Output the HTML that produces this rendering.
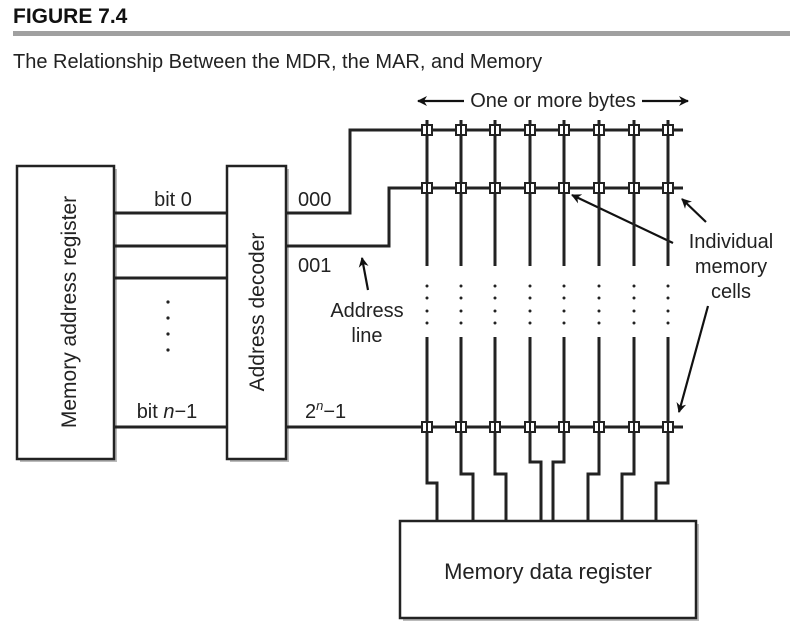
<!DOCTYPE html>
<html><head><meta charset="utf-8"><style>
html,body{margin:0;padding:0;background:#fff;}
svg{display:block;font-family:"Liberation Sans",sans-serif;}
</style></head><body>
<svg width="803" height="633" viewBox="0 0 803 633" xmlns="http://www.w3.org/2000/svg">
<defs>
<g id="c"><rect x="-5" y="-5" width="10" height="10" fill="#fff" stroke="#222" stroke-width="2"/><line x1="0" y1="-5" x2="0" y2="5" stroke="#222" stroke-width="2"/></g>
<g id="dots" fill="#222"><circle cx="0" cy="286" r="1.5"/><circle cx="0" cy="298" r="1.5"/><circle cx="0" cy="311" r="1.5"/><circle cx="0" cy="323" r="1.5"/></g>
<marker id="ah" markerWidth="10" markerHeight="10" refX="9" refY="5" orient="auto" markerUnits="userSpaceOnUse"><path d="M0,0 L10,5 L0,10 L3,5 Z" fill="#111"/></marker>
</defs>
<text x="13" y="23" font-size="21" font-weight="bold" fill="#111">FIGURE 7.4</text>
<rect x="13" y="31" width="777" height="5" fill="#a0a0a0"/>
<text x="13" y="68" font-size="20" fill="#222">The Relationship Between the MDR, the MAR, and Memory</text>

<rect x="20" y="169" width="97" height="293" fill="#bbb"/>
<rect x="230" y="169" width="59" height="293" fill="#bbb"/>
<rect x="403" y="524" width="296" height="97" fill="#bbb"/>
<rect x="17" y="166" width="97" height="293" fill="#fff" stroke="#222" stroke-width="2.5"/>
<rect x="227" y="166" width="59" height="293" fill="#fff" stroke="#222" stroke-width="2.5"/>
<rect x="400" y="521" width="296" height="97" fill="#fff" stroke="#222" stroke-width="2.5"/>
<text transform="translate(76,312) rotate(-90)" font-size="21" text-anchor="middle" fill="#222">Memory address register</text>
<text transform="translate(264,312) rotate(-90)" font-size="21" text-anchor="middle" fill="#222">Address decoder</text>
<text x="548" y="579" font-size="22" text-anchor="middle" fill="#222">Memory data register</text>

<g stroke="#222" stroke-width="3" fill="none">
<line x1="114" y1="213" x2="227" y2="213"/>
<line x1="114" y1="246" x2="227" y2="246"/>
<line x1="114" y1="278" x2="227" y2="278"/>
<line x1="114" y1="427" x2="227" y2="427"/>
<polyline points="286,213 350,213 350,130 683,130"/>
<polyline points="286,246 389,246 389,188 683,188"/>
<line x1="286" y1="427" x2="683" y2="427"/>
</g>
<g fill="#222">
<circle cx="168" cy="302" r="1.6"/><circle cx="168" cy="318" r="1.6"/><circle cx="168" cy="334" r="1.6"/><circle cx="168" cy="350" r="1.6"/>
</g>
<text x="173" y="206" font-size="20" text-anchor="middle" fill="#222">bit 0</text>
<text x="167" y="418" font-size="20" text-anchor="middle" fill="#222">bit <tspan font-style="italic">n</tspan>−1</text>
<text x="298" y="206" font-size="20" fill="#222">000</text>
<text x="298" y="272" font-size="20" fill="#222">001</text>
<text x="305" y="418" font-size="20" fill="#222">2<tspan font-size="13" dy="-8" font-style="italic">n</tspan><tspan dy="8">−1</tspan></text>
<text x="367" y="317" font-size="20" text-anchor="middle" fill="#222">Address</text>
<text x="367" y="342" font-size="20" text-anchor="middle" fill="#222">line</text>
<text x="553" y="107" font-size="20" text-anchor="middle" fill="#222">One or more bytes</text>
<text x="731" y="248" font-size="20" text-anchor="middle" fill="#222">Individual</text>
<text x="731" y="273" font-size="20" text-anchor="middle" fill="#222">memory</text>
<text x="731" y="298" font-size="20" text-anchor="middle" fill="#222">cells</text>

<g stroke="#111" stroke-width="2.2" fill="none" marker-end="url(#ah)">
<line x1="464" y1="101" x2="418" y2="101"/>
<line x1="642" y1="101" x2="688" y2="101"/>
<line x1="368" y1="290" x2="362" y2="258"/>
<line x1="673" y1="243" x2="572" y2="195"/>
<line x1="706" y1="222" x2="682" y2="199"/>
<line x1="708" y1="306" x2="679" y2="412"/>
</g>

<g stroke="#222" stroke-width="3" fill="none">
<polyline points="427,120 427,266"/><polyline points="427,337 427,483 437,483 437,521"/>
<polyline points="461,120 461,266"/><polyline points="461,337 461,474 473,474 473,521"/>
<polyline points="495,120 495,266"/><polyline points="495,337 495,474 506,474 506,521"/>
<polyline points="530,120 530,266"/><polyline points="530,337 530,462 541,462 541,521"/>
<polyline points="564,120 564,266"/><polyline points="564,337 564,462 553,462 553,521"/>
<polyline points="599,120 599,266"/><polyline points="599,337 599,474 588,474 588,521"/>
<polyline points="634,120 634,266"/><polyline points="634,337 634,474 622,474 622,521"/>
<polyline points="668,120 668,266"/><polyline points="668,337 668,483 656,483 656,521"/>
</g>
<use href="#dots" x="427"/><use href="#dots" x="461"/><use href="#dots" x="495"/><use href="#dots" x="530"/>
<use href="#dots" x="564"/><use href="#dots" x="599"/><use href="#dots" x="634"/><use href="#dots" x="668"/>

<g>
<use href="#c" x="427" y="130"/><use href="#c" x="461" y="130"/><use href="#c" x="495" y="130"/><use href="#c" x="530" y="130"/><use href="#c" x="564" y="130"/><use href="#c" x="599" y="130"/><use href="#c" x="634" y="130"/><use href="#c" x="668" y="130"/>
<use href="#c" x="427" y="188"/><use href="#c" x="461" y="188"/><use href="#c" x="495" y="188"/><use href="#c" x="530" y="188"/><use href="#c" x="564" y="188"/><use href="#c" x="599" y="188"/><use href="#c" x="634" y="188"/><use href="#c" x="668" y="188"/>
<use href="#c" x="427" y="427"/><use href="#c" x="461" y="427"/><use href="#c" x="495" y="427"/><use href="#c" x="530" y="427"/><use href="#c" x="564" y="427"/><use href="#c" x="599" y="427"/><use href="#c" x="634" y="427"/><use href="#c" x="668" y="427"/>
</g>
</svg>
</body></html>
